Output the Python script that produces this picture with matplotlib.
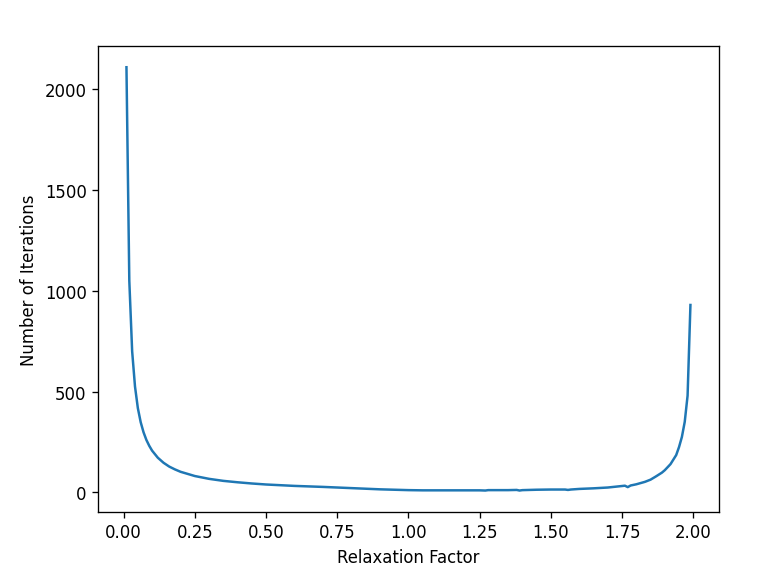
import matplotlib
matplotlib.use("Agg")
import matplotlib.pyplot as plt

# relaxation factor vs iteration count
omega = [0.01, 0.02, 0.03, 0.04, 0.05, 0.06, 0.07, 0.08, 0.09, 0.10,
         0.12, 0.14, 0.16, 0.18, 0.20, 0.25, 0.30, 0.35, 0.40, 0.45,
         0.50, 0.60, 0.70, 0.80, 0.85, 0.90, 0.95, 1.00, 1.05, 1.10,
         1.15, 1.20, 1.25, 1.27, 1.28, 1.30, 1.35, 1.38, 1.39, 1.40,
         1.45, 1.50, 1.55, 1.56, 1.57, 1.60, 1.65, 1.70, 1.74, 1.76,
         1.77, 1.78, 1.80, 1.83, 1.85, 1.87, 1.89, 1.90, 1.92, 1.94,
         1.95, 1.96, 1.97, 1.98, 1.99]
iterations = [2110, 1050, 700, 525, 418, 348, 298, 260, 231, 207,
              172, 147, 128, 114, 102, 81, 67, 57, 50, 44,
              39, 32, 27, 21, 18, 15, 13, 11, 10, 10,
              10, 10, 10, 9, 11, 11, 11, 12, 9, 11,
              13, 14, 14, 12, 14, 17, 20, 24, 30, 33,
              26, 34, 40, 52, 63, 80, 98, 110, 140, 185,
              225, 275, 350, 480, 930]

fig = plt.figure(figsize=(6.4, 4.815), dpi=119.2)
ax = fig.add_axes([0.1288, 0.1068, 0.8132, 0.8113])
ax.plot(omega, iterations)
ax.set_xlabel("Relaxation Factor")
ax.set_ylabel("Number of Iterations")

plt.savefig("out.png", dpi=119.2)
